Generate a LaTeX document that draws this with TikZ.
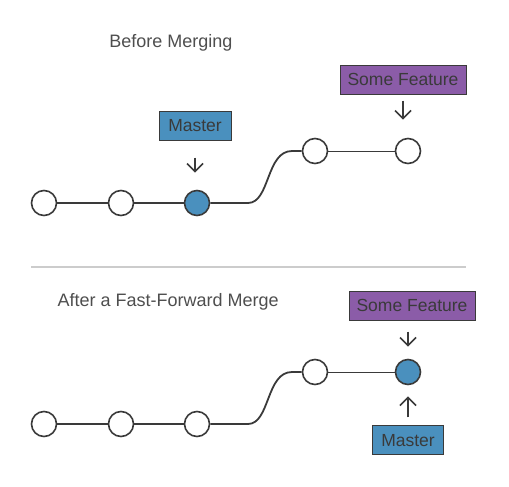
\documentclass[tikz,border=0pt]{standalone}
\usepackage{fontspec}
\setmainfont{Liberation Sans}
\usetikzlibrary{positioning, arrows.meta}

\definecolor{headblue}{HTML}{4A90BE}
\definecolor{featpurple}{HTML}{8B5CA8}
\definecolor{inkgray}{HTML}{3A3A3A}
\definecolor{rulegray}{HTML}{CCCCCC}

\begin{document}
\begin{tikzpicture}[
            x=1pt, y=-1pt,
            commit/.style={circle, draw=inkgray, line width=1.6pt, fill=white, minimum size=25pt, inner sep=0pt},
            tip/.style={commit, fill=headblue},
            branch/.style={draw=inkgray, line width=0.6pt, minimum height=29pt, inner sep=0pt, text=inkgray, font=\fontsize{17.5}{19}\selectfont},
            ptr/.style={draw=inkgray, line width=1.7pt, -{Straight Barb[length=8pt, width=16pt, line width=1.7pt]}},
            link/.style={draw=inkgray, line width=1.8pt},
            thinlink/.style={draw=inkgray, line width=0.9pt},
            title/.style={text=inkgray!90, font=\fontsize{18}{20}\selectfont}
            ]
            \useasboundingbox (0,0) rectangle (509,487);

            % títulos
            \node[title] (title1) at (171,43) {Before Merging};
            \node[title, anchor=west] (title2) at (54,302) {After a Fast-Forward Merge};

            % antes
            \node[commit] (a1) at (44,203) {};
            \node[commit] (a2) at (121,203) {};
            \node[tip] (a3) at (197,203) {};
            \node[commit] (a4) at (315,151) {};
            \node[commit] (a5) at (408,151) {};
            \draw[link] (a1) -- (a2) -- (a3);
            \draw[link] (a3) -- (248,203) .. controls (270,203) and (266,151) .. (292,151) -- (a4);
            \draw[thinlink] (a4) -- (a5);

            \node[branch, fill=headblue, minimum width=72pt, above=49pt of a3, xshift=-2pt] (master1) {Master};
            \node[branch, fill=featpurple, minimum width=126pt, above=43pt of a5, xshift=-5pt] (feat1) {Some Feature};
            \draw[ptr, shorten <=17pt, shorten >=17pt] (master1.south) -- (master1.south |- a3.north);
            \draw[ptr, shorten <=6pt, shorten >=18pt] (feat1.south) -- (feat1.south |- a5.north);

            % separador
            \draw[rulegray, line width=1.2pt] (31,267) coordinate (sepl) -- (466,267) coordinate (sepr);

            % depois
            \node[commit] (b1) at (44,424) {};
            \node[commit] (b2) at (121,424) {};
            \node[commit] (b3) at (197,424) {};
            \node[commit] (b4) at (315,372) {};
            \node[tip] (b5) at (408,372) {};
            \draw[link] (b1) -- (b2) -- (b3);
            \draw[link] (b3) -- (248,424) .. controls (270,424) and (266,372) .. (292,372) -- (b4);
            \draw[thinlink] (b4) -- (b5);

            \node[branch, fill=featpurple, minimum width=126pt, above=38pt of b5, xshift=4pt] (feat2) {Some Feature};
            \node[branch, fill=headblue, minimum width=71pt, below=40pt of b5] (master2) {Master};
            \draw[ptr, shorten <=11pt, shorten >=12pt] (feat2.south -| b5) -- (b5.north);
            \draw[ptr, shorten <=8pt, shorten >=11pt] (master2.north) -- (b5.south);

        \end{tikzpicture}
\end{document}
